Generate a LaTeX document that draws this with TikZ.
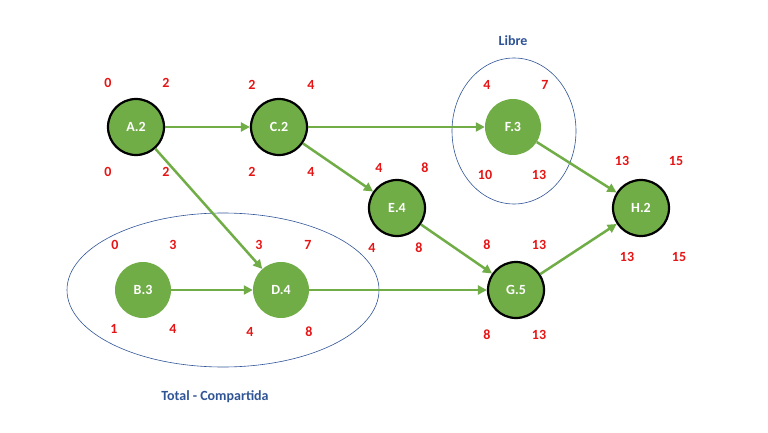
\documentclass[tikz,border=0pt]{standalone}
\usepackage{fontspec}
\setmainfont{Carlito}
\usetikzlibrary{arrows.meta}
\definecolor{gr}{RGB}{112,173,71}
\definecolor{nm}{RGB}{230,20,20}
\definecolor{bl}{RGB}{47,84,150}
\tikzset{
 act/.style={circle,fill=gr,minimum size=56pt,inner sep=0pt,text=white,font=\bfseries\fontsize{14}{14}\selectfont},
 crit/.style={act,draw=black,line width=2.2pt},
 num/.style={text=nm,font=\bfseries\fontsize{14}{14}\selectfont,inner sep=0pt},
 arr/.style={draw=gr,line width=2.5pt,-{Triangle[length=9pt,width=9pt]}},
 zone/.style={draw=bl,line width=0.6pt},
 ttl/.style={text=bl,font=\bfseries\fontsize{14}{14}\selectfont}
}
\begin{document}
\begin{tikzpicture}[x=1pt,y=-1pt]
\useasboundingbox (0,0) rectangle (768,433);
\draw[zone] (514,131) ellipse [x radius=62,y radius=73];
\draw[zone] (223,290) ellipse [x radius=156,y radius=77];
\node[ttl] (lib) at (513,41) {Libre};
\node[ttl] (tot) at (215,397) {Total - Compartida};
\node[crit] (A) at (136,127) {A.2};
\node[crit] (C) at (279,127) {C.2};
\node[act] (F) at (513,127) {F.3};
\node[crit] (E) at (397,208) {E.4};
\node[crit] (H) at (641,208) {H.2};
\node[act] (B) at (143,290) {B.3};
\node[act] (D) at (281,290) {D.4};
\node[crit] (G) at (516,290) {G.5};
\draw[arr] (A) -- (C);
\draw[arr] (A) -- (D);
\draw[arr] (C) -- (F);
\draw[arr] (C) -- (E);
\draw[arr] (F) -- (H);
\draw[arr] (E) -- (G);
\draw[arr] (B) -- (D);
\draw[arr] (D) -- (G);
\draw[arr] (G) -- (H);
\foreach \n/\x/\y/\t in {a1/108/83/0,a2/166/83/2,a3/108/172/0,a4/166/172/2,
 c1/252/85/2,c2/311/85/4,c3/252/172/2,c4/311/172/4,
 f1/487/85/4,f2/545/85/7,f3/485/175/10,f4/539/175/13,
 e1/379/168/4,e2/425/168/8,e3/372/248/4,e4/419/248/8,
 h1/622/161/13,h2/676/161/15,h3/627/257/13,h4/679/257/15,
 b1/115/245/0,b2/173/245/3,b3/114/329/1,b4/173/329/4,
 d1/259/245/3,d2/308/245/7,d3/250/332/4,d4/309/332/8,
 g1/487/245/8,g2/539/245/13,g3/487/335/8,g4/539/335/13}
 \node[num] (\n) at (\x,\y) {\t};
\end{tikzpicture}
\end{document}
